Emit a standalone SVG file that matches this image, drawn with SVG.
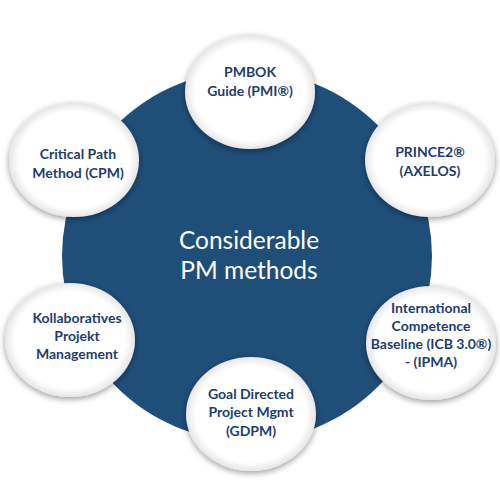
<svg xmlns="http://www.w3.org/2000/svg" width="500" height="500" viewBox="0 0 500 500">
<defs>
<radialGradient id="wg" cx="50%" cy="50%" r="50%">
<stop offset="0%" stop-color="#ffffff"/>
<stop offset="85%" stop-color="#ffffff"/>
<stop offset="100%" stop-color="#e6e6e6"/>
</radialGradient>
<filter id="sh" x="-20%" y="-20%" width="140%" height="140%">
<feGaussianBlur in="SourceAlpha" stdDeviation="3"/>
<feOffset dx="0" dy="2" result="b"/>
<feFlood flood-color="#000" flood-opacity="0.4"/>
<feComposite in2="b" operator="in"/>
<feMerge><feMergeNode/><feMergeNode in="SourceGraphic"/></feMerge>
</filter>
<style>
.n{fill:url(#wg);filter:url(#sh)}
.t{font-family:Lato,"Open Sans",sans-serif;font-weight:bold;font-size:14px;fill:#1f3d6b;text-anchor:middle}
.c{font-family:Lato,"Open Sans",sans-serif;font-size:24.5px;fill:#ffffff;text-anchor:middle}
</style>
</defs>
<rect width="500" height="500" fill="#ffffff"/>
<g id="center">
<circle cx="247" cy="256" r="185" fill="#1f4e79"/>
<text class="c" x="249" y="249">Considerable</text>
<text class="c" x="249" y="279">PM methods</text>
</g>
<g id="connectors"></g>
<g id="pmbok">
<ellipse class="n" cx="250" cy="92" rx="65" ry="57"/>
<text class="t" x="250" y="77">PMBOK</text>
<text class="t" x="250" y="96">Guide (PMI®)</text>
</g>
<g id="prince2">
<ellipse class="n" cx="430" cy="160" rx="65" ry="57"/>
<text class="t" x="430" y="157">PRINCE2®</text>
<text class="t" x="430" y="176">(AXELOS)</text>
</g>
<g id="icb">
<ellipse class="n" cx="431" cy="343" rx="65" ry="57"/>
<text class="t" x="431" y="313">International</text>
<text class="t" x="431" y="331">Competence</text>
<text class="t" x="431" y="349">Baseline (ICB 3.0®)</text>
<text class="t" x="431" y="367">- (IPMA)</text>
</g>
<g id="gdpm">
<ellipse class="n" cx="251" cy="414" rx="65" ry="57"/>
<text class="t" x="251" y="399">Goal Directed</text>
<text class="t" x="251" y="417">Project Mgmt</text>
<text class="t" x="251" y="436">(GDPM)</text>
</g>
<g id="kpm">
<ellipse class="n" cx="70" cy="340" rx="65" ry="57"/>
<text class="t" x="77" y="323">Kollaboratives</text>
<text class="t" x="77" y="341">Projekt</text>
<text class="t" x="77" y="359">Management</text>
</g>
<g id="cpm">
<ellipse class="n" cx="74" cy="160" rx="65" ry="57"/>
<text class="t" x="78" y="159">Critical Path</text>
<text class="t" x="78" y="178">Method (CPM)</text>
</g>
</svg>
